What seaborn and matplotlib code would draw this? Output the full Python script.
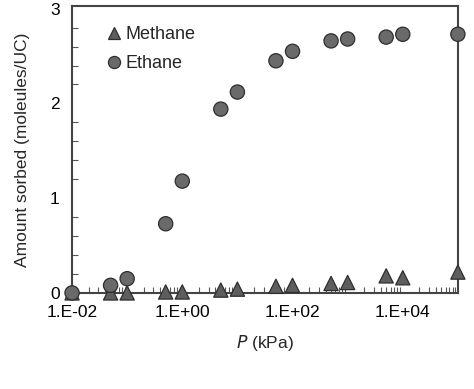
import numpy as np
import pandas as pd
import matplotlib
matplotlib.use("Agg")
import matplotlib.pyplot as plt
import matplotlib.ticker as mticker
import seaborn as sns

# Data
pressure_kpa = [0.01, 0.05, 0.1, 0.5, 1.0, 5.0, 10.0, 50.0, 100.0, 500.0, 1000.0, 5000.0, 10000.0, 100000.0]
methane = [0.0, 0.0, 0.0, 0.01, 0.01, 0.03, 0.04, 0.07, 0.08, 0.10, 0.11, 0.18, 0.16, 0.22]
ethane = [0.0, 0.08, 0.15, 0.73, 1.18, 1.94, 2.12, 2.45, 2.55, 2.66, 2.68, 2.70, 2.73, 2.73]
series_names = ["Methane", "Ethane"]
x_tick_values = [1e-2, 1e0, 1e2, 1e4]
x_tick_labels = ["1.E-02", "1.E+00", "1.E+02", "1.E+04"]
y_tick_values = [0, 1, 2, 3]

df = pd.DataFrame({
    "P": pressure_kpa * 2,
    "amount": methane + ethane,
    "gas": [series_names[0]] * len(methane) + [series_names[1]] * len(ethane),
})

sns.set_style("ticks")
plt.rcParams["font.family"] = ["Liberation Sans", "DejaVu Sans"]

fig = plt.figure(figsize=(4.74, 3.89), dpi=100)
ax = fig.add_axes([0.152, 0.247, 0.814, 0.738])

sns.scatterplot(
    data=df, x="P", y="amount", style="gas", hue="gas",
    markers={"Methane": "^", "Ethane": "o"},
    palette={"Methane": "#5e5e5e", "Ethane": "#6a6a6a"},
    s=105, edgecolor="#2e2e2e", linewidth=0.9, ax=ax, clip_on=False, zorder=3,
)
ax.set_xscale("log")
ax.set_xlim(1e-2, 1e5)
ax.set_ylim(0, 3.03)

ax.set_xticks(x_tick_values)
ax.set_xticklabels(x_tick_labels)
ax.xaxis.set_minor_locator(mticker.LogLocator(base=10, subs=np.arange(2, 10), numticks=20))
ax.xaxis.set_minor_formatter(mticker.NullFormatter())
ax.set_yticks(y_tick_values)
ax.yaxis.set_minor_locator(mticker.MultipleLocator(0.2))

ax.tick_params(which="both", direction="in", colors="#555555", labelcolor="black", labelsize=12.5)
ax.tick_params(which="major", length=0)
ax.tick_params(axis="y", which="major", pad=9)
ax.tick_params(axis="x", which="major", pad=9)
ax.tick_params(which="minor", length=4, width=0.8)

for sp in ax.spines.values():
    sp.set_color("#444444")
    sp.set_linewidth(1.5)

ax.set_xlabel(r"$\it{P}$ (kPa)", fontsize=12.5, labelpad=9)
ax.set_ylabel("Amount sorbed (moleules/UC)", fontsize=12.5, labelpad=14)

handles, labels = ax.get_legend_handles_labels()
leg = ax.legend(handles, labels, loc="upper left", bbox_to_anchor=(0.042, 0.985),
                frameon=False, fontsize=13, handlelength=1.0, handletextpad=0.15,
                labelspacing=0.65, markerscale=0.85)

fig.savefig("out.png", dpi=100)
